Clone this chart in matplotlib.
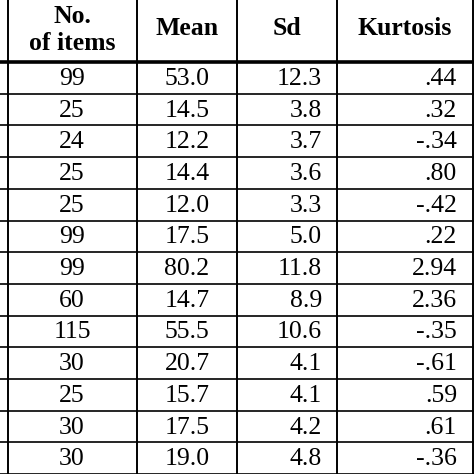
import matplotlib.pyplot as plt

items = ["99", "25", "24", "25", "25", "99", "99", "60", "115", "30", "25", "30", "30"]
means = ["53.0", "14.5", "12.2", "14.4", "12.0", "17.5", "80.2", "14.7", "55.5", "20.7", "15.7", "17.5", "19.0"]
sds = ["12.3", "3.8", "3.7", "3.6", "3.3", "5.0", "11.8", "8.9", "10.6", "4.1", "4.1", "4.2", "4.8"]
kurt = [".44", ".32", "-.34", ".80", "-.42", ".22", "2.94", "2.36", "-.35", "-.61", ".59", ".61", "-.36"]

plt.rcParams['font.family'] = ['Liberation Serif', 'DejaVu Serif']
fig = plt.figure(figsize=(4.74, 4.74), dpi=100)
ax = fig.add_axes([0, 0, 1, 1])
ax.set_xlim(0, 474)
ax.set_ylim(474, 0)
ax.axis("off")

fs = 18.5
head_bot = 62
row_h = 31.7
vlines = [8, 137, 237, 337, 473]

# grid
for x in vlines:
    ax.plot([x, x], [0, 474], color="black", lw=1.4)
ax.plot([0, 474], [head_bot, head_bot], color="black", lw=2.6)
for i in range(1, len(items) + 1):
    y = head_bot + i * row_h
    ax.plot([0, 474], [y, y], color="black", lw=1.2)

# header
hkw = dict(fontsize=fs, fontweight="bold", va="center")
ax.text(72, 16, "No.", ha="center", **hkw)
ax.text(72, 43, "of items", ha="center", **hkw)
ax.text(187, 28, "Mean", ha="center", **hkw)
ax.text(287, 28, "Sd", ha="center", **hkw)
ax.text(405, 28, "Kurtosis", ha="center", **hkw)

for i in range(len(items)):
    y = head_bot + (i + 0.5) * row_h + 1
    ax.text(72, y, items[i], ha="center", va="center", fontsize=fs)
    ax.text(187, y, means[i], ha="center", va="center", fontsize=fs)
    ax.text(322, y, sds[i], ha="right", va="center", fontsize=fs)
    ax.text(457, y, kurt[i], ha="right", va="center", fontsize=fs)

fig.savefig("out.png", dpi=100, facecolor="white")
